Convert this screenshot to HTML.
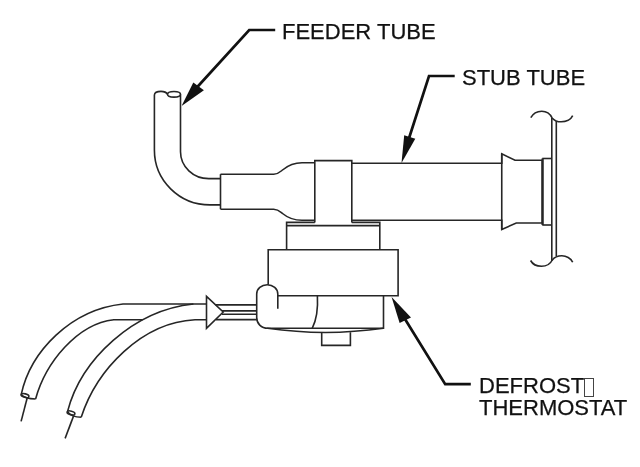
<!DOCTYPE html>
<html><head><meta charset="utf-8">
<style>
html,body{margin:0;padding:0;background:#fff;}
body{width:640px;height:467px;overflow:hidden;position:relative;}
svg{position:absolute;left:0;top:0;}
.t{position:absolute;will-change:transform;-webkit-text-stroke:0.25px #111;margin-top:2px;font-family:"Liberation Sans",sans-serif;font-size:22px;line-height:1;color:#111;white-space:nowrap;}
</style></head><body>
<svg width="640" height="467" viewBox="0 0 640 467">
<g fill="none" stroke="#262626" stroke-width="1.6" stroke-linejoin="miter" stroke-linecap="butt">
  <!-- feeder tube -->
  <path d="M154.4,95 V150 A55.6,54.8 0 0 0 210,204.9 H220.5"/>
  <path d="M180.5,94.5 V151.8 A28.3,26.8 0 0 0 209,178.6 H220.5"/>
  <path d="M154.4,95 C154.6,92.3 158,91.4 161,91.4 C164,91.4 166.5,92.5 167.6,94.3"/>
  <ellipse cx="174" cy="94.35" rx="6.5" ry="2.8"/>
  <!-- sleeve -->
  <path d="M220.5,174.2 H273.7 C278,174.2 279.5,172.5 282.5,170 C288,165.5 294,162.8 302,162.8 H314.8"/>
  <path d="M220.5,209.2 H273.7 C278,209.2 279.5,211 282.5,213.5 C288,218 294,220.3 302,220.3 H314.8"/>
  <path d="M220.5,174.2 V209.2"/>
  <!-- clamp -->
  <path d="M314.8,222.4 V160.6 H351.8 V222.4"/>
  <!-- stub tube -->
  <path d="M351.8,163.2 H501.75 V153.8 L515,160.2 H542.25 V223 H516.25 L501.75,229.5 V220.3 H351.8"/>
  <path d="M542.25,158.5 H551.8"/>
  <path d="M501.75,153.8 V229.5"/>
  <path d="M542.6,158.5 V225" stroke-width="2.3"/>
  <path d="M542.25,225 H551.8"/>
  <!-- wall plate -->
  <path d="M551.8,118 V261"/>
  <path d="M556.3,121.3 V256.2"/>
  <path d="M530.8,117.7 C533.5,112.5 538,111.2 541.75,111.2 C546,111.2 550,113.5 552.1,117.9 C554.5,120.8 557.5,121.8 561.2,121.8 C566,121.8 571,119.5 572.7,115.7"/>
  <path d="M530.6,260.5 C533,265 538,266.3 541.5,266.3 C546,266.3 550,264.5 552.3,260 C554.5,257 557.5,255.8 561.9,255.8 C566,255.8 571,258 572.7,262.2"/>
  <!-- base plate -->
  <path d="M286.6,249.6 V222.4 H314.8 M351.8,222.4 H379.8 V249.6"/>
  <path d="M286.6,225.6 H379.8"/>
  <!-- big box -->
  <path d="M268.2,284.8 V249.7 H398.1 V295.8 H277.8"/>
  <!-- lower body -->
  <path d="M383.5,295.8 V328.3 H267.5"/>
  <path d="M267.5,328.3 Q325,336.6 383.5,328.3"/>
  <path d="M317.4,295.8 C318.2,310 317,319 312.2,328.3"/>
  <path d="M321.7,332.4 V345.4 H350.4 V332.2"/>
  <!-- elbow -->
  <path d="M277.8,308.8 V294 A10.55,9.3 0 0 0 256.7,294 V317.5 C256.7,323.5 261,328.3 268,328.3"/>
  <!-- wires into elbow -->
  <path d="M215.5,304.9 H256.7 M216,319.6 H256.7 M222,310.9 H256.7 M222,314.2 H256.7"/>
  <!-- triangle -->
  <path d="M206.5,296.3 L223.2,312 L206.5,328.4 Z"/>
  <!-- cables -->
  <path d="M206.4,304 H123 C70.9,309.6 30.5,351.2 21.2,394.6"/>
  <path d="M142.7,319.7 H113.8 C77.2,323.7 45.5,362.9 35.6,399"/>
  <path d="M206.4,319.7 H195 C141.7,322.3 96.6,369.6 81.2,417.2"/>
  <path d="M193.4,304 C133.8,310.2 81.1,358.9 67.5,411.6"/>
  <path d="M21.2,394.6 C24,398 28,399 35.6,399"/>
  <ellipse cx="25" cy="395.6" rx="4" ry="1.8" transform="rotate(15 25 395.6)"/>
  <path d="M27.3,397.5 L21.1,421.4"/>
  <path d="M67.5,411.6 C70,415 74,417.2 81.2,417.2"/>
  <ellipse cx="71" cy="412.9" rx="4" ry="1.8" transform="rotate(15 71 412.9)"/>
  <path d="M73.8,415.4 L65.1,438.4"/>
</g>
<g fill="none" stroke="#111" stroke-width="2.7" stroke-linejoin="miter">
  <path d="M275.2,30 H249.2 L190,95"/>
  <path d="M454.7,76 H429 L406.5,146"/>
  <path d="M470.8,384.2 H445.2 L400,311"/>
</g>
<g fill="#111" stroke="none">
  <path d="M181.6,106 L193.3,82.6 L203.9,90.3 Z"/>
  <path d="M401.5,163 L404.2,135.3 L415.3,138.8 Z"/>
  <path d="M391.6,297 L399.6,323 L411,317.5 Z"/>
</g>
</svg>
<div class="t" style="left:282px;top:19px">FEEDER TUBE</div>
<div class="t" style="left:462px;top:65px">STUB TUBE</div>
<div class="t" style="left:478.5px;top:373.3px">DEFROST</div>
<div style="position:absolute;left:584px;top:378.2px;width:8.4px;height:17px;border:1px solid #444;"></div>
<div class="t" style="left:478.5px;top:394.8px">THERMOSTAT</div>
</body></html>
